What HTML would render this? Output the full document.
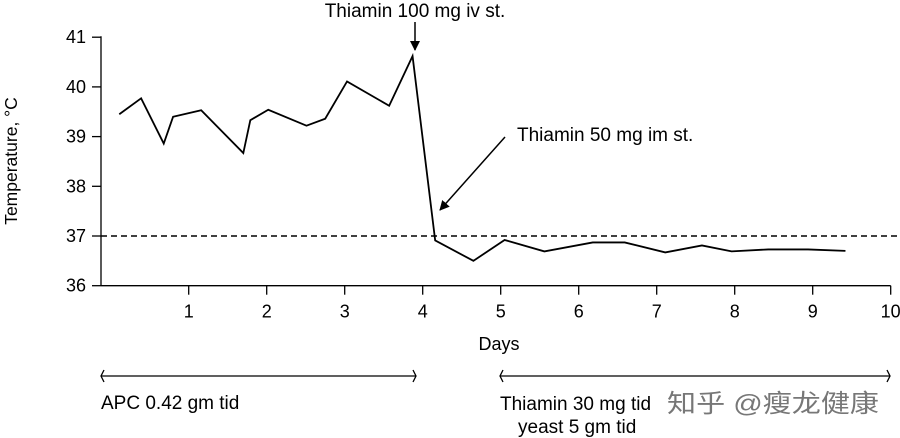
<!DOCTYPE html>
<html><head><meta charset="utf-8"><style>
body{margin:0;background:#fff;}
svg{display:block;font-family:"Liberation Sans","Noto Sans CJK SC",sans-serif;}
</style></head><body>
<svg id="chart" width="900" height="438" viewBox="0 0 900 438">
<defs><marker id="ah" markerWidth="10" markerHeight="10" refX="9" refY="5" orient="auto" markerUnits="userSpaceOnUse"><path d="M0,0 L10,5 L0,10 z" fill="#000"/></marker></defs>
<g id="axes"></g>
<g id="marks"></g>
<text transform="translate(17,161) rotate(-90)" text-anchor="middle" font-size="17.5">Temperature, °C</text>
<text x="499" y="350" text-anchor="middle" font-size="18">Days</text>
<text x="415" y="17" text-anchor="middle" font-size="19">Thiamin 100 mg iv st.</text>
<line x1="415" y1="22" x2="415" y2="50" stroke="#000" stroke-width="1.5" marker-end="url(#ah)"/>
<text x="517" y="141" font-size="19">Thiamin 50 mg im st.</text>
<line x1="505" y1="137" x2="440" y2="210" stroke="#000" stroke-width="1.5" marker-end="url(#ah)"/>
<g stroke="#000" stroke-width="1.3" fill="none">
<line x1="101" y1="376" x2="416" y2="376"/><path d="M104,370 L101,376 L104,382 M413,370 L416,376 L413,382"/></g>
<text x="101" y="409" font-size="19">APC 0.42 gm tid</text>
<g stroke="#000" stroke-width="1.3" fill="none">
<line x1="500" y1="376" x2="890" y2="376"/><path d="M503,370 L500,376 L503,382 M887,370 L890,376 L887,382"/></g>
<text x="500" y="410" font-size="19">Thiamin 30 mg tid</text>
<text x="518" y="433" font-size="19">yeast 5 gm tid</text>
<text x="667" y="412" font-size="25" fill="#777" textLength="212" lengthAdjust="spacingAndGlyphs">知乎 @瘦龙健康</text>
</svg>
<script>
const days=[0.11,0.39,0.68,0.80,1.16,1.70,1.79,2.02,2.51,2.75,3.03,3.57,3.87,4.16,4.65,5.05,5.56,6.18,6.59,7.11,7.58,7.96,8.43,8.94,9.42];
const temps=[39.45,39.77,38.86,39.40,39.53,38.67,39.33,39.54,39.22,39.36,40.11,39.62,40.62,36.91,36.50,36.92,36.69,36.87,36.87,36.67,36.81,36.69,36.73,36.73,36.70];
const xTicks=[1,2,3,4,5,6,7,8,9,10];
const yTicks=[36,37,38,39,40,41];
const refTemp=37;
const NS='http://www.w3.org/2000/svg';
const X=d=>110.7+d*78;
const Y=t=>285.7-(t-36)*49.7;
function mk(tag,attrs,parent,text){const e=document.createElementNS(NS,tag);for(const k in attrs)e.setAttribute(k,attrs[k]);if(text!==undefined)e.textContent=text;parent.appendChild(e);return e;}
const ax=document.getElementById('axes'),mg=document.getElementById('marks');
let l=mk('line',{x1:101,y1:Y(41)-1,x2:101,y2:Y(36),stroke:'#000','stroke-width':1.3},ax);


l=mk('line',{x1:101,y1:Y(36),x2:X(10),y2:Y(36),stroke:'#000','stroke-width':1.3},ax);


yTicks.forEach(t=>{const g=mk('g',{},ax);


mk('line',{x1:92,y1:Y(t),x2:101,y2:Y(t),stroke:'#000','stroke-width':1.3},g);
mk('text',{x:86,y:Y(t)+6,'text-anchor':'end','font-size':18},g,t);});
xTicks.forEach(t=>{const g=mk('g',{},ax);


mk('line',{x1:X(t),y1:Y(36),x2:X(t),y2:Y(36)+9,stroke:'#000','stroke-width':1.3},g);
mk('text',{x:X(t),y:Y(36)+32,'text-anchor':'middle','font-size':18},g,t);});
l=mk('line',{x1:101,y1:Y(refTemp),x2:900,y2:Y(refTemp),stroke:'#000','stroke-width':1.5,'stroke-dasharray':'6,4'},mg);


const p=mk('polyline',{points:days.map((d,i)=>X(d)+','+Y(temps[i])).join(' '),fill:'none',stroke:'#000','stroke-width':1.8,'stroke-linejoin':'miter'},mg);


</script>
</body></html>
